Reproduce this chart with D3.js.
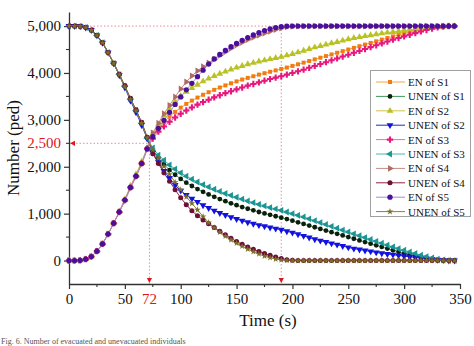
<!DOCTYPE html>
<html>
<head>
<meta charset="utf-8">
<script src="https://cdn.jsdelivr.net/npm/d3@7"></script>
<style>
  body { margin: 0; background: #fff; }
  svg { display: block; }
  svg text { font-family: "Liberation Serif", "Times New Roman", serif; }
</style>
</head>
<body>
<div id="chart"></div>
<script>
// sampling times (s)
var times = [0,5,10,15,20,25,30,35,40,45,50,55,60,65,70,75,80,85,90,95,100,105,110,115,120,125,130,135,140,145,150,155,160,165,170,175,180,185,190,195,200,205,210,215,220,225,230,235,240,245,250,255,260,265,270,275,280,285,290,295,300,305,310,315,320,325,330,335,340,345];

// evacuated / unevacuated pedestrians per scenario
var s1En = [0,0,5,30,85,200,355,565,795,1035,1290,1560,1800,2070,2380,2650,2810,2950,3070,3170,3260,3340,3410,3475,3535,3590,3640,3690,3735,3780,3820,3860,3895,3930,3965,3995,4025,4055,4085,4115,4150,4185,4220,4255,4290,4325,4360,4395,4430,4465,4500,4535,4570,4605,4640,4675,4710,4745,4780,4815,4845,4870,4895,4920,4942,4962,4978,4990,4997,5000];
var s1Unen = [5000,5000,4995,4970,4915,4800,4645,4435,4205,3965,3710,3440,3200,2930,2620,2350,2190,2050,1930,1830,1740,1660,1590,1525,1465,1410,1360,1310,1265,1220,1180,1140,1105,1070,1035,1005,975,945,915,885,850,815,780,745,710,675,640,605,570,535,500,465,430,395,360,325,290,255,220,185,155,130,105,80,58,38,22,10,3,0];
var s2En = [0,0,5,30,85,200,355,565,795,1050,1310,1590,1840,2110,2400,2700,2900,3090,3240,3390,3510,3600,3680,3750,3820,3880,3935,3985,4030,4075,4115,4150,4185,4215,4245,4270,4295,4320,4345,4375,4405,4440,4475,4510,4545,4575,4605,4635,4660,4690,4720,4745,4765,4785,4805,4825,4845,4860,4875,4890,4905,4920,4935,4948,4960,4972,4983,4992,4998,5000];
var s2Unen = [5000,5000,4995,4970,4915,4800,4645,4435,4205,3950,3690,3410,3160,2890,2600,2300,2100,1910,1760,1610,1490,1400,1320,1250,1180,1120,1065,1015,970,925,885,850,815,785,755,730,705,680,655,625,595,560,525,490,455,425,395,365,340,310,280,255,235,215,195,175,155,140,125,110,95,80,65,52,40,28,17,8,2,0];
var s3En = [0,0,5,30,85,200,355,565,795,1035,1290,1560,1800,2070,2390,2600,2750,2860,2960,3050,3130,3200,3265,3325,3380,3430,3480,3525,3570,3610,3650,3690,3730,3765,3800,3835,3870,3900,3930,3965,4000,4035,4070,4110,4150,4190,4230,4270,4310,4350,4390,4430,4470,4510,4550,4590,4630,4670,4710,4745,4780,4815,4850,4885,4915,4945,4970,4988,4997,5000];
var s3Unen = [5000,5000,4995,4970,4915,4800,4645,4435,4205,3965,3710,3440,3200,2930,2610,2400,2250,2140,2040,1950,1870,1800,1735,1675,1620,1570,1520,1475,1430,1390,1350,1310,1270,1235,1200,1165,1130,1100,1070,1035,1000,965,930,890,850,810,770,730,690,650,610,570,530,490,450,410,370,330,290,255,220,185,150,115,85,55,30,12,3,0];
var s4En = [0,0,5,30,85,200,355,565,795,1030,1270,1540,1785,2050,2370,2720,2930,3130,3310,3490,3660,3810,3940,4045,4135,4215,4295,4375,4450,4525,4595,4655,4710,4760,4805,4848,4888,4925,4958,4982,4995,5000,5000,5000,5000,5000,5000,5000,5000,5000,5000,5000,5000,5000,5000,5000,5000,5000,5000,5000,5000,5000,5000,5000,5000,5000,5000,5000,5000,5000];
var s4Unen = [5000,5000,4995,4970,4915,4800,4645,4435,4205,3970,3730,3460,3215,2950,2630,2280,2070,1870,1690,1510,1340,1190,1060,955,865,785,705,625,550,475,405,345,290,240,195,152,112,75,42,18,5,0,0,0,0,0,0,0,0,0,0,0,0,0,0,0,0,0,0,0,0,0,0,0,0,0,0,0,0,0];
var s5En = [0,0,5,30,85,200,355,565,795,1035,1290,1560,1800,2070,2380,2640,2820,2990,3160,3330,3490,3640,3780,3920,4060,4190,4300,4395,4480,4560,4630,4695,4755,4810,4860,4905,4940,4968,4988,4998,5000,5000,5000,5000,5000,5000,5000,5000,5000,5000,5000,5000,5000,5000,5000,5000,5000,5000,5000,5000,5000,5000,5000,5000,5000,5000,5000,5000,5000,5000];
var s5Unen = [5000,5000,4995,4970,4915,4800,4645,4435,4205,3965,3710,3440,3200,2930,2620,2360,2180,2010,1840,1670,1510,1360,1220,1080,940,810,700,605,520,440,370,305,245,190,140,95,60,32,12,2,0,0,0,0,0,0,0,0,0,0,0,0,0,0,0,0,0,0,0,0,0,0,0,0,0,0,0,0,0,0];

var seriesNames = ["EN of S1","UNEN of S1","EN of S2","UNEN of S2","EN of S3","UNEN of S3","EN of S4","UNEN of S4","EN of S5","UNEN of S5"];
var seriesValues = [s1En, s1Unen, s2En, s2Unen, s3En, s3Unen, s4En, s4Unen, s5En, s5Unen];

var xTicks = [0,50,100,150,200,250,300,350];
var xMinor = [25,75,125,175,225,275,325];
var yTicks = [0,1000,2000,3000,4000,5000];
var yMinor = [500,1500,2500,3500,4500];
var markTime = 72, markValue = 2500, fullTime = 190, total = 5000;

// look of each series: line colour, marker colour, marker shape, rotation
var styles = [
  {line: "#f3a54a", fill: "#f07c12", sym: d3.symbolSquare, size: 16, rot: 0},
  {line: "#3f9a5c", fill: "#0c1f0c", sym: d3.symbolCircle, size: 18, rot: 0},
  {line: "#cfc44a", fill: "#b9c223", sym: d3.symbolTriangle, size: 20, rot: 0},
  {line: "#1b2bc4", fill: "#1212e0", sym: d3.symbolTriangle, size: 20, rot: 180},
  {line: "#f06aa8", fill: "#e8177d", sym: d3.symbolCross, size: 22, rot: 0},
  {line: "#47b5b5", fill: "#1b9494", sym: d3.symbolTriangle, size: 20, rot: -90},
  {line: "#c48a86", fill: "#b06b62", sym: d3.symbolTriangle, size: 20, rot: 90},
  {line: "#8a2448", fill: "#6e1036", sym: d3.symbolCircle, size: 20, rot: 0},
  {line: "#a68ae0", fill: "#4a0f9c", sym: d3.symbolCircle, size: 22, rot: 0},
  {line: "#8f8034", fill: "#7a6e26", sym: d3.symbolStar, size: 14, rot: 0}
];

var width = 474, height = 346;
var serif = "Liberation Serif, Times New Roman, serif";
var svg = d3.select("#chart").append("svg")
  .attr("width", width)
  .attr("height", height)
  .attr("font-family", serif);

var x = d3.scaleLinear().domain([0, 350]).range([69, 460]);
var y = d3.scaleLinear().domain([-500, 5300]).range([284, 12]);

var red = "#e0141e";
var guide = "#eb8a96";

// dotted guide lines
function guideLine(x1, y1, x2, y2) {
  svg.append("line")
    .attr("x1", x1).attr("y1", y1).attr("x2", x2).attr("y2", y2)
    .attr("stroke", guide)
    .attr("stroke-width", 1)
    .attr("stroke-dasharray", "1.5,2");
}
guideLine(x(0), y(total), x(fullTime), y(total));
guideLine(x(fullTime), y(total), x(fullTime), y(-500));
guideLine(x(0), y(markValue), x(markTime), y(markValue));
guideLine(x(markTime), y(markValue), x(markTime), y(-500));

// axes
var xAxis = svg.append("g")
  .attr("transform", "translate(0," + y(-500) + ")")
  .call(d3.axisBottom(x).tickValues(xTicks).tickSize(5).tickSizeOuter(0).tickPadding(4).tickFormat(d3.format("d")));
var yAxis = svg.append("g")
  .attr("transform", "translate(" + x(0) + ",0)")
  .call(d3.axisLeft(y).tickValues(yTicks).tickSize(5).tickSizeOuter(0).tickPadding(3).tickFormat(d3.format(",")));

[xAxis, yAxis].forEach(function(g) {
  g.attr("font-family", serif).attr("font-size", 15);
  g.select(".domain").attr("stroke", "#333").attr("stroke-width", 1.3);
  g.selectAll(".tick line").attr("stroke", "#333").attr("stroke-width", 1.2);
  g.selectAll(".tick text").attr("fill", "#111");
});

// minor ticks
svg.append("g").selectAll("line")
  .data(xMinor)
  .enter().append("line")
  .attr("x1", d => x(d)).attr("x2", d => x(d))
  .attr("y1", y(-500)).attr("y2", y(-500) + 3)
  .attr("stroke", "#333").attr("stroke-width", 1.1);
svg.append("g").selectAll("line")
  .data(yMinor)
  .enter().append("line")
  .attr("x1", x(0)).attr("x2", x(0) - 3)
  .attr("y1", d => y(d)).attr("y2", d => y(d))
  .attr("stroke", "#333").attr("stroke-width", 1.1);

// red marker labels
svg.append("text")
  .attr("x", x(markTime)).attr("y", y(-500) + 19.5)
  .attr("text-anchor", "middle")
  .attr("fill", red).attr("font-size", 15)
  .text(markTime);
svg.append("text")
  .attr("x", x(0) - 8).attr("y", y(markValue) + 5)
  .attr("text-anchor", "end")
  .attr("fill", red).attr("font-size", 15)
  .text(d3.format(",")(markValue));

// red arrow heads
function arrow(cx, cy, rot) {
  svg.append("path")
    .attr("d", "M0,0 L-2.6,-5 L2.6,-5 Z")
    .attr("fill", red)
    .attr("transform", "translate(" + cx + "," + cy + ") rotate(" + rot + ")");
}
arrow(x(markTime), y(-500) - 1, 0);
arrow(x(fullTime), y(-500) - 1, 0);
arrow(x(0) + 1, y(markValue), 90);
arrow(x(0) + 1, y(total), 90);

// series lines and markers
var line = d3.line()
  .x((d, i) => x(times[i]))
  .y(d => y(d));

seriesValues.forEach(function(vals, k) {
  var st = styles[k];
  svg.append("path")
    .datum(vals)
    .attr("d", line)
    .attr("fill", "none")
    .attr("stroke", st.line)
    .attr("stroke-width", 1);
});

seriesValues.forEach(function(vals, k) {
  var st = styles[k];
  var sym = d3.symbol().type(st.sym).size(st.size);
  svg.append("g").selectAll("path")
    .data(vals)
    .enter().append("path")
    .attr("d", sym)
    .attr("fill", st.fill)
    .attr("transform", (d, i) => "translate(" + x(times[i]) + "," + y(d) + ") rotate(" + st.rot + ")");
});

// axis titles
svg.append("text")
  .attr("x", 268).attr("y", 326)
  .attr("text-anchor", "middle")
  .attr("fill", "#111")
  .attr("font-size", 17)
  .text("Time (s)");
svg.append("text")
  .attr("transform", "translate(19," + y(2400) + ") rotate(-90)")
  .attr("text-anchor", "middle")
  .attr("fill", "#111")
  .attr("font-size", 17)
  .text("Number (ped)");

// legend
var legend = svg.append("g");
legend.append("rect")
  .attr("x", 370.5).attr("y", 70.5)
  .attr("width", 100).attr("height", 146)
  .attr("fill", "#fff")
  .attr("stroke", "#a0a0a0")
  .attr("stroke-width", 1);
seriesNames.forEach(function(name, k) {
  var st = styles[k];
  var ly = 82 + k * 14.4;
  legend.append("line")
    .attr("x1", 376).attr("x2", 405)
    .attr("y1", ly).attr("y2", ly)
    .attr("stroke", st.line).attr("stroke-width", 1);
  legend.append("path")
    .attr("d", d3.symbol().type(st.sym).size(st.size)())
    .attr("fill", st.fill)
    .attr("transform", "translate(390," + ly + ") rotate(" + st.rot + ")");
  legend.append("text")
    .attr("x", 408).attr("y", ly + 4)
    .attr("fill", "#111")
    .attr("font-size", 11)
    .text(name);
});

// figure caption
svg.append("text")
  .attr("x", 1).attr("y", 344)
  .attr("fill", "#555")
  .attr("font-size", 8)
  .text("Fig. 6. Number of evacuated and unevacuated individuals");
</script>
</body>
</html>
